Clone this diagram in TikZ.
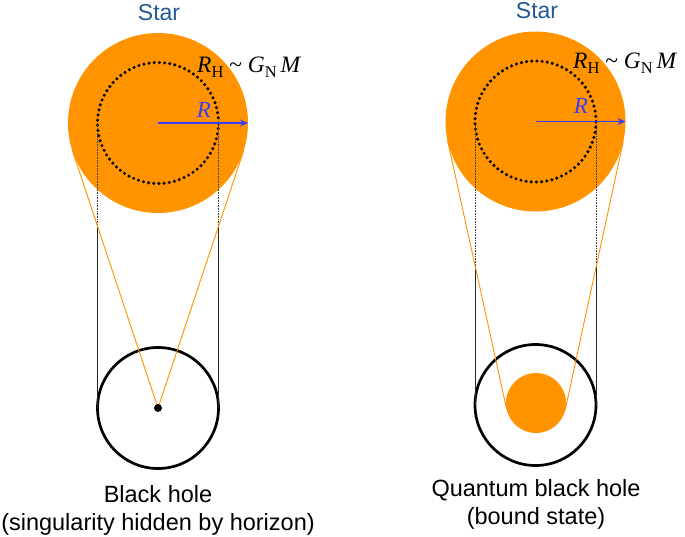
\documentclass[tikz,border=0pt]{standalone}
\usepackage{fontspec}
\setmainfont{Liberation Sans}
\newfontfamily\serifm{Liberation Serif}
\usetikzlibrary{arrows.meta}
\definecolor{starorange}{RGB}{255,148,0}
\definecolor{starblue}{RGB}{35,90,150}
\definecolor{rblue}{RGB}{60,60,245}
\newcommand\mysub[1]{\raisebox{-5pt}{\fontsize{16.5}{17}\selectfont #1}}
\newcommand\RHGN{\textit{R}\mysub{H}\ \symbol{"7E}\ \textit{G}\mysub{N}\,\textit{M}}
\begin{document}
\begin{tikzpicture}[x=1pt,y=-1pt,
  star/.style={circle, fill=starorange, inner sep=0pt, outer sep=0pt, minimum size=180pt},
  horizon/.style={circle, draw=black, line width=3.4pt, dash pattern=on 0pt off 5.2pt, line cap=round, inner sep=0pt, outer sep=0pt, minimum size=121pt},
  bhole/.style={circle, draw=black, line width=2.7pt, inner sep=0pt, outer sep=0pt, minimum size=121pt},
  core/.style={circle, fill=starorange, inner sep=0pt, outer sep=0pt, minimum size=60pt},
  sing/.style={circle, fill=black, inner sep=0pt, outer sep=0pt, minimum size=8pt},
  ray/.style={draw=starorange, line width=0.9pt},
  guide/.style={line width=0.6pt, dash pattern=on 0.8pt off 0.8pt, black!75},
  wall/.style={line width=1pt, black!85},
  radarrow/.style={draw=rblue, line width=1.4pt, -{Stealth[length=8pt,width=7pt]}},
  startitle/.style={text=starblue, font=\fontsize{23}{27}\selectfont, anchor=base, inner sep=0pt},
  formula/.style={font=\serifm\fontsize{23.5}{27}\selectfont, anchor=base west, inner sep=0pt},
  rlabel/.style={text=rblue, font=\serifm\itshape\fontsize{23}{27}\selectfont, inner sep=0pt},
  caption/.style={font=\fontsize{23.5}{27.5}\selectfont, align=center, anchor=base, inner sep=0pt}
]
\useasboundingbox (0,0) rectangle (685,536);

% ---------- left: classical black hole ----------
\node[star] (s1) at (158,123) {};
\node[horizon] (h1) at (158,123) {};
\node[bhole] (b1) at (158,408) {};
\coordinate (w1a) at (97.5,228);
\coordinate (w1b) at (218.5,228);
\draw[guide] (h1.west) -- (w1a);
\draw[guide] (h1.east) -- (w1b);
\draw[wall] (w1a) -- (b1.west);
\draw[wall] (w1b) -- (b1.east);
\coordinate (k1) at (158,408);
\draw[ray] (s1.197.6) -- (k1);
\draw[ray] (s1.342.4) -- (k1);
\node[sing] (d1) at (k1) {};
\draw[radarrow] (s1.center) -- (s1.east);
\node[rlabel] (r1) at (204,110) {R};
\node[formula] (f1) at (197,72) {\RHGN};
\node[startitle] (t1) at (159,20) {Star};
\node[caption] (c1) at (158,530) {Black hole\\(singularity hidden by horizon)};

% ---------- right: quantum black hole ----------
\node[star] (s2) at (535.5,121.5) {};
\node[horizon] (h2) at (535.5,121.5) {};
\node[bhole] (b2) at (535.5,405) {};
\coordinate (w2a) at (475,265);
\coordinate (w2b) at (596,265);
\draw[guide] (h2.west) -- (w2a);
\draw[guide] (h2.east) -- (w2b);
\draw[wall] (w2a) -- (b2.west);
\draw[wall] (w2b) -- (b2.east);
\node[core] (o2) at (536,403) {};
\draw[ray] (s2.192.2) -- (o2.192.2);
\draw[ray] (s2.347.8) -- (o2.347.8);
\draw[radarrow] (s2.center) -- (s2.east);
\node[rlabel] (r2) at (581,106) {R};
\node[formula] (f2) at (573,68) {\RHGN};
\node[startitle] (t2) at (537,18) {Star};
\node[caption] (c2) at (536,524) {Quantum black hole\\(bound state)};
\end{tikzpicture}
\end{document}
